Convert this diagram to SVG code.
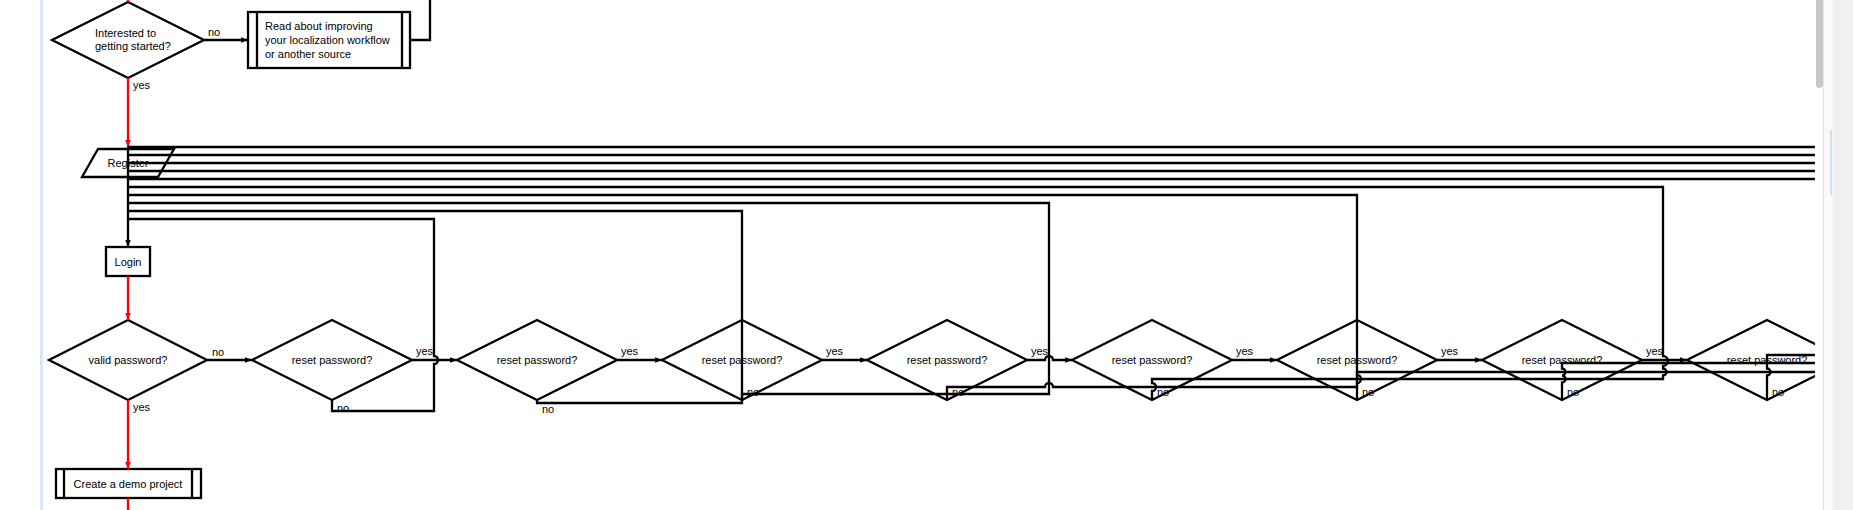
<svg xmlns="http://www.w3.org/2000/svg" width="1853" height="510" viewBox="0 0 1853 510">
<style>
.n{fill:#fff;stroke:#000;stroke-width:2.3}
.s{fill:none;stroke:#000;stroke-width:2.3}
.t{font-family:"Liberation Sans",Arial,sans-serif;font-size:11px;fill:#000}
.m{text-anchor:middle}
.c{fill:none;stroke:#000;stroke-width:2.3}
.r{fill:none;stroke:#f00;stroke-width:2.3}
.ab{marker-end:url(#ab)}
.ar{marker-end:url(#ar)}
</style>
<defs>
<marker id="ab" markerUnits="userSpaceOnUse" markerWidth="8" markerHeight="8" viewBox="0 0 8 8" refX="7" refY="4" orient="auto"><path d="M0,1.2 L7,4 L0,6.8 z" fill="#000"/></marker>
<marker id="ar" markerUnits="userSpaceOnUse" markerWidth="8" markerHeight="8" viewBox="0 0 8 8" refX="7" refY="4" orient="auto"><path d="M0,1.2 L7,4 L0,6.8 z" fill="#f00"/></marker>
<clipPath id="clip"><rect x="0" y="0" width="1815" height="510"/></clipPath>
</defs>
<rect x="0" y="0" width="1853" height="510" fill="#fff"/>
<rect x="40" y="0" width="3" height="510" fill="#dce8f8"/>
<g clip-path="url(#clip)">
<g id="node-interested">
<polygon class="n" points="128,2 204,40 128,78 52,40"/>
<text class="t" x="95" y="37">Interested to</text>
<text class="t" x="95" y="50">getting started?</text>
</g>
<g id="node-read">
<rect class="n" x="248" y="12" width="162" height="56"/>
<line class="s" x1="257" y1="12" x2="257" y2="68"/>
<line class="s" x1="402" y1="12" x2="402" y2="68"/>
<text class="t" x="265" y="30">Read about improving</text>
<text class="t" x="265" y="44">your localization workflow</text>
<text class="t" x="265" y="57.5">or another source</text>
</g>
<g id="node-register">
<polygon class="n" points="98,149 174,149 158,177 82,177"/>
<text class="t m" x="128" y="167">Register</text>
</g>
<g id="node-login">
<rect class="n" x="106" y="247" width="44" height="29"/>
<text class="t m" x="128" y="265.5">Login</text>
</g>
<g id="node-valid">
<polygon class="n" points="128,320 207,360 128,400 49,360"/>
<text class="t m" x="128" y="364">valid password?</text>
</g>
<g id="node-reset1"><polygon class="n" points="332,320 412,360 332,400 252,360"/><text class="t m" x="332" y="364">reset password?</text></g>
<g id="node-reset2"><polygon class="n" points="537,320 617,360 537,400 457,360"/><text class="t m" x="537" y="364">reset password?</text></g>
<g id="node-reset3"><polygon class="n" points="742,320 822,360 742,400 662,360"/><text class="t m" x="742" y="364">reset password?</text></g>
<g id="node-reset4"><polygon class="n" points="947,320 1027,360 947,400 867,360"/><text class="t m" x="947" y="364">reset password?</text></g>
<g id="node-reset5"><polygon class="n" points="1152,320 1232,360 1152,400 1072,360"/><text class="t m" x="1152" y="364">reset password?</text></g>
<g id="node-reset6"><polygon class="n" points="1357,320 1437,360 1357,400 1277,360"/><text class="t m" x="1357" y="364">reset password?</text></g>
<g id="node-reset7"><polygon class="n" points="1562,320 1642,360 1562,400 1482,360"/><text class="t m" x="1562" y="364">reset password?</text></g>
<g id="node-reset8"><polygon class="n" points="1767,320 1847,360 1767,400 1687,360"/><text class="t m" x="1767" y="364">reset password?</text></g>
<g id="node-demo">
<rect class="n" x="56" y="469" width="145" height="29"/>
<line class="s" x1="64" y1="469" x2="64" y2="498"/>
<line class="s" x1="192" y1="469" x2="192" y2="498"/>
<text class="t m" x="128" y="488">Create a demo project</text>
</g>
<g id="connectors">
<path class="r" d="M128 0 V2"/>
<path class="r ar" d="M128 78 V147"/>
<path class="c ab" d="M204 40 H248"/>
<text class="t" x="208" y="36">no</text>
<text class="t" x="133" y="89">yes</text>
<path class="c" d="M410 40 H430 V0"/>
<path class="c" d="M128 147 H1815 M128 155 H1815 M128 163 H1815 M128 171 H1815 M128 179 H1815"/>
<path class="c" d="M332 400 V411 H434 V364 A4 4 0 0 0 434 356 V219 H128"/>
<path class="c" d="M537 400 V403 H742 V211 H128"/>
<path class="c" d="M742 400 V394 H1049 V203 H128"/>
<path class="c" d="M947 400 V387 H1045 A4 4 0 0 1 1053 387 H1357 V383 A4 4 0 0 0 1357 375 V195 H128"/>
<path class="c" d="M1152 400 V391 A4 4 0 0 0 1152 383 V379 H1663 V375.5 A3.5 3.5 0 0 0 1663 368.5 V366 A5 5 0 0 0 1663 356 V187 H128"/>
<path class="c" d="M1357 400 V372 H1815"/>
<path class="c" d="M1562 400 V382.5 A3.5 3.5 0 0 0 1562 375.5 A3.5 3.5 0 0 0 1562 368.5 V363 H1815"/>
<path class="c" d="M1767 400 V375.5 A3.5 3.5 0 0 0 1767 368.5 V355 H1815"/>
<path class="c ab" d="M128 147 V247"/>
<path class="r ar" d="M128 276 V320"/>
<path class="c ab" d="M207 360 H252"/>
<text class="t" x="212" y="356">no</text>
<path class="c ab" d="M412 360 H457"/>
<path class="c ab" d="M617 360 H662"/>
<path class="c ab" d="M822 360 H867"/>
<path class="c ab" d="M1027 360 H1045 A4 4 0 0 1 1053 360 H1072"/>
<path class="c ab" d="M1232 360 H1277"/>
<path class="c ab" d="M1437 360 H1482"/>
<path class="c ab" d="M1642 360 H1687"/>
<text class="t" x="416" y="355">yes</text>
<text class="t" x="621" y="355">yes</text>
<text class="t" x="826" y="355">yes</text>
<text class="t" x="1031" y="355">yes</text>
<text class="t" x="1236" y="355">yes</text>
<text class="t" x="1441" y="355">yes</text>
<text class="t" x="1646" y="355">yes</text>
<text class="t" x="337" y="412">no</text>
<text class="t" x="542" y="413">no</text>
<text class="t" x="747" y="396">no</text>
<text class="t" x="952" y="396">no</text>
<text class="t" x="1157" y="396">no</text>
<text class="t" x="1362" y="396">no</text>
<text class="t" x="1567" y="396">no</text>
<text class="t" x="1772" y="396">no</text>
<path class="r ar" d="M128 400 V469"/>
<text class="t" x="133" y="411">yes</text>
<path class="r" d="M128 498 V510"/>
</g>
</g>
<rect x="1815" y="0" width="38" height="510" fill="#fff"/>
<rect x="1816" y="-4" width="7" height="92" rx="3.5" fill="#c8c8c8"/>
<rect x="1823" y="0" width="1" height="510" fill="#e4e4e4"/>
<rect x="1824" y="0" width="9" height="510" fill="#fafafa"/>
<rect x="1830" y="130" width="2" height="65" fill="#cfe0f5"/>
<rect x="1833" y="0" width="20" height="510" fill="#f0f0f0"/>
</svg>
